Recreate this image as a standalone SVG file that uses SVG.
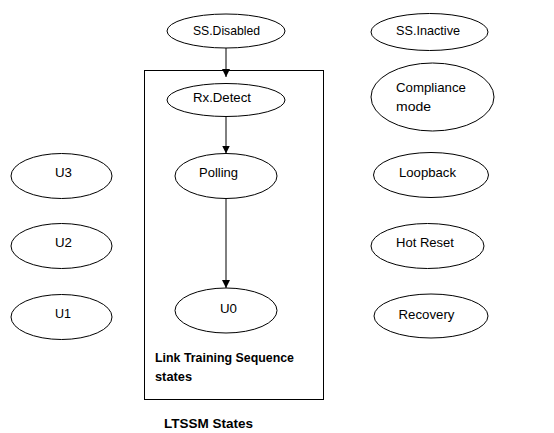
<svg xmlns="http://www.w3.org/2000/svg" width="554" height="433" viewBox="0 0 554 433">
<defs>
<style>
.n{fill:#fff;stroke:#000;stroke-width:1}
.t{font-family:"Liberation Sans",Arial,sans-serif;font-size:13px;fill:#000}
.b{font-family:"Liberation Sans",Arial,sans-serif;font-size:13px;font-weight:bold;fill:#000}
.c{stroke:#000;stroke-width:1;fill:none}
</style>
<marker id="ah" markerWidth="8" markerHeight="8" refX="8" refY="4" orient="auto" markerUnits="userSpaceOnUse">
<path d="M0,0 L8,4 L0,8 z" fill="#000"/>
</marker>
</defs>
<rect width="554" height="433" fill="#fff"/>
<g id="lts-box">
<rect x="144.5" y="70.5" width="179" height="329" fill="none" stroke="#000"/>
<text class="b" x="155" y="362" textLength="139" lengthAdjust="spacingAndGlyphs">Link Training Sequence</text>
<text class="b" x="155" y="381" textLength="37" lengthAdjust="spacingAndGlyphs">states</text>
</g>
<g id="connectors">
<line class="c" x1="226" y1="48" x2="226" y2="77" marker-end="url(#ah)"/>
<line class="c" x1="226" y1="116.5" x2="226" y2="153.5" marker-end="url(#ah)"/>
<line class="c" x1="226" y1="198.5" x2="226" y2="288" marker-end="url(#ah)"/>
</g>
<g id="ss-disabled"><ellipse class="n" cx="226" cy="31" rx="59" ry="17"/><text class="t" x="193" y="35" textLength="67" lengthAdjust="spacingAndGlyphs">SS.Disabled</text></g>
<g id="rx-detect"><ellipse class="n" cx="226" cy="100" rx="59" ry="16.5"/><text class="t" x="193" y="101.5" textLength="58" lengthAdjust="spacingAndGlyphs">Rx.Detect</text></g>
<g id="polling"><ellipse class="n" cx="226" cy="176" rx="51" ry="22.5"/><text class="t" x="199" y="177" textLength="39" lengthAdjust="spacingAndGlyphs">Polling</text></g>
<g id="u0"><ellipse class="n" cx="226" cy="310.5" rx="51" ry="22.5"/><text class="t" x="220" y="312.5" textLength="17" lengthAdjust="spacingAndGlyphs">U0</text></g>
<g id="u3"><ellipse class="n" cx="61.5" cy="176" rx="50.5" ry="22.5"/><text class="t" x="55" y="177" textLength="17" lengthAdjust="spacingAndGlyphs">U3</text></g>
<g id="u2"><ellipse class="n" cx="61.5" cy="246" rx="50.5" ry="22.5"/><text class="t" x="55" y="247" textLength="17" lengthAdjust="spacingAndGlyphs">U2</text></g>
<g id="u1"><ellipse class="n" cx="61.5" cy="317" rx="50.5" ry="22.5"/><text class="t" x="55" y="318" textLength="16" lengthAdjust="spacingAndGlyphs">U1</text></g>
<g id="ss-inactive"><ellipse class="n" cx="429.5" cy="32" rx="58.5" ry="18.5"/><text class="t" x="396" y="35" textLength="64" lengthAdjust="spacingAndGlyphs">SS.Inactive</text></g>
<g id="compliance"><ellipse class="n" cx="432.5" cy="97" rx="61.5" ry="34"/><text class="t" x="396" y="91.5" textLength="70" lengthAdjust="spacingAndGlyphs">Compliance</text><text class="t" x="396" y="111" textLength="35" lengthAdjust="spacingAndGlyphs">mode</text></g>
<g id="loopback"><ellipse class="n" cx="431" cy="175" rx="57.5" ry="22.5"/><text class="t" x="399" y="177" textLength="57" lengthAdjust="spacingAndGlyphs">Loopback</text></g>
<g id="hot-reset"><ellipse class="n" cx="427.5" cy="246" rx="56.5" ry="22.5"/><text class="t" x="396" y="247" textLength="58" lengthAdjust="spacingAndGlyphs">Hot Reset</text></g>
<g id="recovery"><ellipse class="n" cx="431" cy="316" rx="57" ry="22"/><text class="t" x="398.5" y="318.5" textLength="56" lengthAdjust="spacingAndGlyphs">Recovery</text></g>
<g id="title"><text class="b" x="164" y="428" textLength="89" lengthAdjust="spacingAndGlyphs">LTSSM States</text></g>
</svg>
